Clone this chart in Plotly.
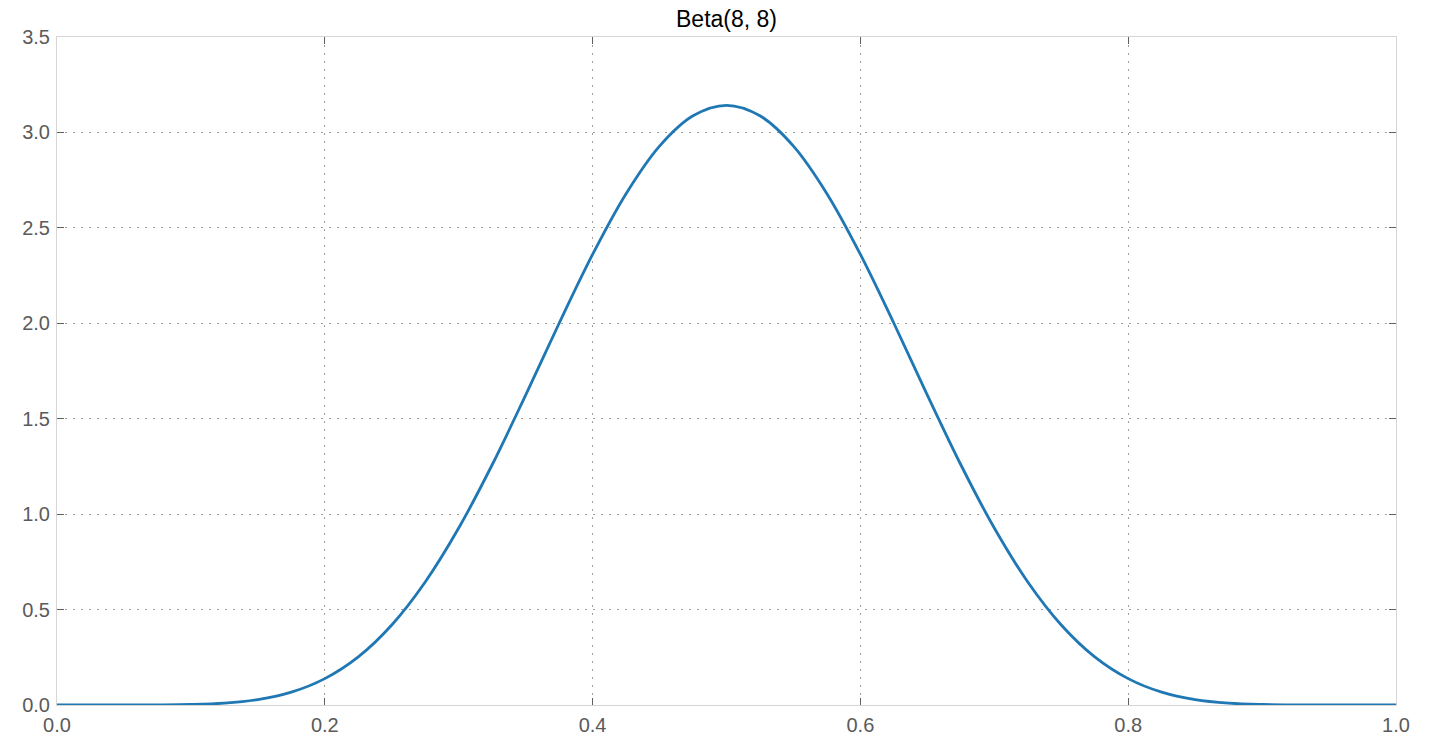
import plotly.graph_objects as go

# Density values (Beta(8, 8) pdf)
x_vals = [0.0, 0.05, 0.075, 0.1, 0.125, 0.15, 0.175, 0.2, 0.225, 0.25, 0.275, 0.3, 0.325, 0.35,
          0.375, 0.4, 0.425, 0.45, 0.475, 0.5, 0.525, 0.55, 0.575, 0.6, 0.625, 0.65, 0.675,
          0.7, 0.725, 0.75, 0.775, 0.8, 0.825, 0.85, 0.875, 0.9, 0.925, 0.95, 1.0]
y_vals = [0.0, 0.00003, 0.0004, 0.0025, 0.0096, 0.0282, 0.0672, 0.1382, 0.2523, 0.4194, 0.6446,
          0.9272, 1.2588, 1.6238, 2.0001, 2.3611, 2.6791, 2.9284, 3.0872, 3.1421, 3.0872, 2.9284,
          2.6791, 2.3611, 2.0001, 1.6238, 1.2588, 0.9272, 0.6446, 0.4194, 0.2523, 0.1382,
          0.0672, 0.0282, 0.0096, 0.0025, 0.0004, 0.00003, 0.0]

x_ticks = [0.0, 0.2, 0.4, 0.6, 0.8, 1.0]
y_ticks = [0.0, 0.5, 1.0, 1.5, 2.0, 2.5, 3.0, 3.5]
title_text = "Beta(8, 8)"

FONT = "Liberation Sans, Arial, sans-serif"

fig = go.Figure()
fig.add_trace(go.Scatter(x=x_vals, y=y_vals, mode="lines",
                         line=dict(color="#1f77b4", width=2.8, shape="spline", smoothing=1.0),
                         showlegend=False, hoverinfo="x+y"))

axis_common = dict(
    showline=True, linecolor="#d6d6d6", linewidth=1, mirror="ticks",
    ticks="inside", ticklen=7, tickwidth=1.3, tickcolor="#606060",
    showgrid=True, gridcolor="#a0a0a0", griddash="2px,6px", gridwidth=1,
    zeroline=False,
    tickfont=dict(family=FONT, size=20, color="#5a5a5a"),
)

fig.update_xaxes(range=[0, 1], tickvals=x_ticks, ticktext=[f"{v:.1f}" for v in x_ticks],
                 ticklabelstandoff=2, **axis_common)
fig.update_yaxes(range=[0, 3.5], tickvals=y_ticks, ticktext=[f"{v:.1f}" for v in y_ticks],
                 ticklabelstandoff=2, **axis_common)

W, H = 1436, 754
fig.update_layout(
    width=W, height=H,
    margin=dict(l=57, r=40, t=37, b=49),
    paper_bgcolor="white", plot_bgcolor="white",
    title=dict(text=title_text, x=0.5, xanchor="center", xref="paper",
               y=1 - 19 / H, yanchor="middle",
               font=dict(family=FONT, size=23, color="black")),
)

fig.write_html("out.html", config={"displayModeBar": False},
               post_script="document.body.style.margin='0px';")
